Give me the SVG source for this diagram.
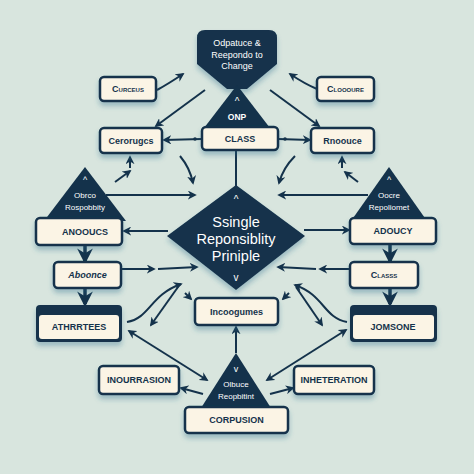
<svg xmlns="http://www.w3.org/2000/svg" width="474" height="474" viewBox="0 0 474 474">
<defs>
<marker id="ah" viewBox="0 0 10 10" refX="8" refY="5" markerWidth="4.5" markerHeight="4.5" orient="auto-start-reverse" markerUnits="strokeWidth">
<path d="M0,0 L10,5 L0,10 L3,5 Z" fill="#14324b"/>
</marker>
<filter id="sh" x="-20%" y="-30%" width="140%" height="180%">
<feDropShadow dx="0" dy="4" stdDeviation="2.5" flood-color="#2c6a8a" flood-opacity="0.35"/>
</filter>
<style>
.box{fill:#fbf4e5;stroke:#14324b;stroke-width:2.5}
.dark{fill:#14324b}
.lbl{font-family:"Liberation Sans",Arial,sans-serif;font-weight:bold;font-size:9px;fill:#14324b;text-anchor:middle;dominant-baseline:central}
.wt{font-family:"Liberation Sans",Arial,sans-serif;fill:#ffffff;text-anchor:middle;dominant-baseline:central}
.c{fill:none;stroke:#14324b;stroke-width:2;marker-end:url(#ah)}
.both{marker-start:url(#ah)}
.dn{fill:none;stroke:#14324b;stroke-width:3.5;marker-end:url(#ah)}
</style>
</defs>
<rect width="474" height="474" fill="#d8e5de"/>

<g id="connectors">
<path class="c" d="M157,90 Q168,84 183,74"/>
<path class="c" d="M205,90 L156,126"/>
<path class="c" d="M202,139 L164,140"/>
<circle cx="195" cy="139" r="1.8" fill="#14324b"/>
<path class="c" d="M130,168 L130,157"/>
<path class="c" d="M115,182 L130,171"/>
<path class="c" d="M180,156 Q190,168 193,183"/>
<path class="c" d="M106,195 L195,195"/>
<path class="c" d="M168,231 L124,231"/>
<path class="c" d="M317,89 Q305,84 290,74"/>
<path class="c" d="M270,90 L319,126"/>
<path class="c" d="M278,139 L310,140"/>
<circle cx="285" cy="139" r="1.8" fill="#14324b"/>
<path class="c" d="M342,168 L342,157"/>
<path class="c" d="M358,182 L345,172"/>
<path class="c" d="M295,156 Q283,168 279,183"/>
<path class="c" d="M368,195 L279,195"/>
<path class="c" d="M304,230 L349,230"/>
<path class="c" d="M122,269 L154,269"/>
<path class="c" d="M158,269 L197,267"/>
<path class="c" d="M350,269 L320,269"/>
<path class="c" d="M316,269 L278,267"/>
<path class="c" d="M127,322 C150,318 150,295 181,284"/>
<path class="c" d="M178,287 L151,325"/>
<path class="c" d="M185,293 L191,299"/>
<path class="c both" d="M129,331 L207,380"/>
<path class="c" d="M203,394 L181,388"/>
<path class="c" d="M347,322 C324,318 324,295 295,285"/>
<path class="c" d="M296,287 L322,325"/>
<path class="c" d="M289,293 L283,299"/>
<path class="c both" d="M346,330 L267,380"/>
<path class="c" d="M270,394 L293,388"/>
<path fill="none" stroke="#14324b" stroke-width="2" d="M236,150 L236,187"/>
<path class="c" d="M236,353 L236,327"/>
<path class="dn" d="M85,245 L85,261"/>
<path class="dn" d="M85,288 L85,304"/>
<path class="dn" d="M390,244 L390,261"/>
<path class="dn" d="M390,288 L390,304"/>
</g>

<g id="top-change">
<path class="dark" filter="url(#sh)" d="M205,30 H269 Q277,30 277,38 V64 L247,89 H227 L197,64 V38 Q197,30 205,30 Z"/>
<text class="wt" font-size="9" x="237" y="43">Odpatuce &amp;</text>
<text class="wt" font-size="9" x="237" y="54.5">Reepondo to</text>
<text class="wt" font-size="9" x="237" y="66">Change</text>
</g>

<g id="onp">
<path class="dark" d="M237,85 L270,128 L204,128 Z"/>
<text class="wt" font-size="10" x="237" y="101">^</text>
<text class="wt" font-size="8.5" font-weight="bold" x="237" y="117">ONP</text>
</g>

<g id="class-top">
<rect class="box" filter="url(#sh)" x="202" y="127" width="76" height="23" rx="4"/>
<text class="lbl" x="240" y="139">CLASS</text>
</g>

<g id="curceus">
<rect class="box" filter="url(#sh)" x="100" y="77" width="56" height="24" rx="4"/>
<text class="lbl" x="128" y="89" font-size="10" style="font-variant:small-caps">Curceus</text>
</g>

<g id="cerorugcs">
<rect class="box" filter="url(#sh)" x="100" y="128" width="62" height="25" rx="4"/>
<text class="lbl" x="131" y="140.5" font-size="9.5">Cerorugcs</text>
</g>

<g id="cloooure">
<rect class="box" filter="url(#sh)" x="317" y="77" width="57" height="24" rx="4"/>
<text class="lbl" x="345.5" y="89" font-size="10" style="font-variant:small-caps">Cloooure</text>
</g>

<g id="rnoouce">
<rect class="box" filter="url(#sh)" x="311" y="128" width="63" height="25" rx="4"/>
<text class="lbl" x="342.5" y="140.5" font-size="9.5">Rnoouce</text>
</g>

<g id="left-tri">
<path class="dark" d="M85,167 L126,221 L44,221 Z"/>
<text class="wt" font-size="9" x="85" y="180">^</text>
<text class="wt" font-size="8" x="85" y="195">Obrco</text>
<text class="wt" font-size="8" x="85" y="207">Rospobbity</text>
</g>

<g id="anoouCS">
<rect class="box" filter="url(#sh)" x="36" y="218" width="86" height="27" rx="4"/>
<text class="lbl" x="85" y="231.5">ANOOUCS</text>
</g>

<g id="aboonce">
<rect class="box" filter="url(#sh)" x="54" y="262" width="67" height="26" rx="4"/>
<text class="lbl" x="87.5" y="275" font-style="italic">Aboonce</text>
</g>

<g id="athrrtees">
<rect class="dark" filter="url(#sh)" x="36" y="305" width="86" height="37" rx="4"/>
<rect fill="#fbf4e5" x="39" y="315" width="80" height="24" rx="3"/>
<text class="lbl" x="79" y="327" font-size="8.5">ATHRRTEES</text>
</g>

<g id="right-tri">
<path class="dark" d="M389,167 L427,221 L351,221 Z"/>
<text class="wt" font-size="9" x="389" y="180">^</text>
<text class="wt" font-size="8" x="389" y="195">Oocre</text>
<text class="wt" font-size="8" x="389" y="207">Repoliomet</text>
</g>

<g id="adoucy">
<rect class="box" filter="url(#sh)" x="350" y="218" width="86" height="26" rx="4"/>
<text class="lbl" x="393" y="231">ADOUCY</text>
</g>

<g id="classs">
<rect class="box" filter="url(#sh)" x="350" y="262" width="68" height="26" rx="4"/>
<text class="lbl" x="384" y="275" font-size="10" style="font-variant:small-caps">Classs</text>
</g>

<g id="jomsone">
<rect class="dark" filter="url(#sh)" x="350" y="305" width="87" height="37" rx="4"/>
<rect fill="#fbf4e5" x="353" y="315" width="81" height="24" rx="3"/>
<text class="lbl" x="393" y="327" font-size="8">JOMSONE</text>
</g>

<g id="srp">
<path class="dark" filter="url(#sh)" d="M236,185 L305,236 L236,290 L167,236 Z"/>
<text class="wt" font-size="10" x="236" y="199">^</text>
<text class="wt" font-size="14.5" x="236" y="222">Ssingle</text>
<text class="wt" font-size="14.5" x="236" y="239">Reponsiblity</text>
<text class="wt" font-size="14.5" x="236" y="256">Priniple</text>
<text class="wt" font-size="10" x="236" y="277">v</text>
</g>

<g id="incoogumes">
<rect class="box" filter="url(#sh)" x="195" y="298" width="83" height="27" rx="4"/>
<text class="lbl" x="236.5" y="311.5">Incoogumes</text>
</g>

<g id="bottom-tri">
<path class="dark" d="M236,353 L271,408 L201,408 Z"/>
<text class="wt" font-size="9" x="236" y="369">v</text>
<text class="wt" font-size="8" x="236" y="384">Olbuce</text>
<text class="wt" font-size="8" x="236" y="396">Reopbitint</text>
</g>

<g id="corpusion">
<rect class="box" filter="url(#sh)" x="185" y="407" width="103" height="26" rx="4"/>
<text class="lbl" x="236.5" y="420">CORPUSION</text>
</g>

<g id="inourrasion">
<rect class="box" filter="url(#sh)" x="99" y="366" width="80" height="28" rx="4"/>
<text class="lbl" x="139" y="380" font-size="8">INOURRASION</text>
</g>

<g id="inheteration">
<rect class="box" filter="url(#sh)" x="294" y="366" width="80" height="28" rx="4"/>
<text class="lbl" x="334" y="380" font-size="8">INHETERATION</text>
</g>
</svg>
